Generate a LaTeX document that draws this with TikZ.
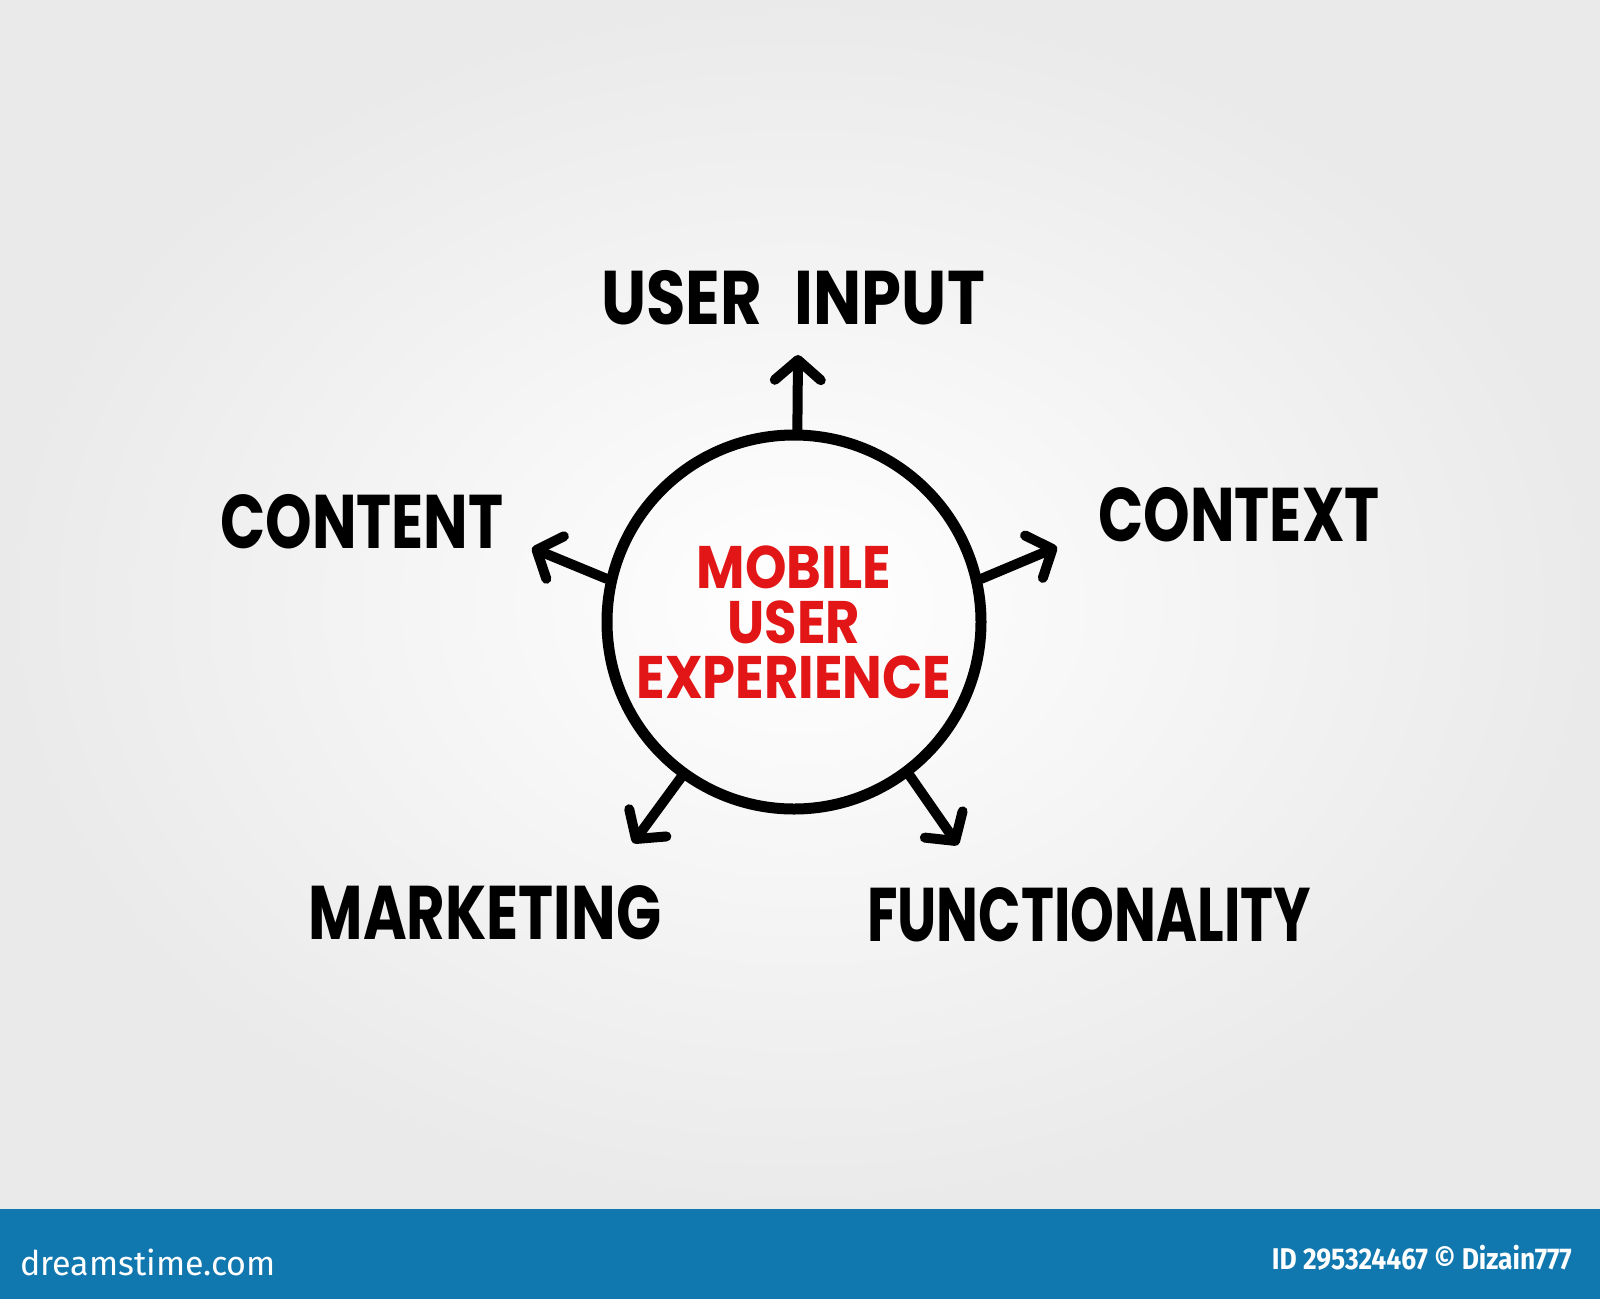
\documentclass[tikz,border=0pt]{standalone}
\usepackage{fontspec}
\usetikzlibrary{arrows.meta}
\newfontfamily\marker{Poppins}[FakeStretch=0.78]
\newfontfamily\redmarker{Poppins}[FakeStretch=0.88]
\newfontfamily\barfont{Fira Sans}
\definecolor{mred}{RGB}{226,22,22}
\definecolor{barblue}{RGB}{17,119,175}
\definecolor{bggray}{RGB}{234,234,234}

\begin{document}
\begin{tikzpicture}[x=1pt,y=-1pt,
    lbl/.style={font=\marker\bfseries\fontsize{76}{80}\selectfont,inner sep=0pt},
    arr/.style={line width=10pt,line cap=round,
        -{Straight Barb[length=20pt,width=46pt,line width=10pt,round]}}]
        \useasboundingbox (0,0) rectangle (1600,1299);
        \shade[inner color=white,outer color=bggray] (0,0) rectangle (1600,1209);
        \fill[barblue] (0,1209) rectangle (1600,1299);
        % the circle in the middle
        \node[circle,draw,line width=11pt,minimum size=374pt,inner sep=0pt,
              text=mred,align=center,
              font=\redmarker\bfseries\fontsize{60}{55}\selectfont] (hub) at (794,622)
              {MOBILE\\USER\\EXPERIENCE};
        \node[lbl] (input) at (793,298) {\scalebox{1.08}[1]{USER\hspace{18pt} INPUT}};
        \node[lbl] (content) at (362,522) {CONTENT};
        \node[lbl] (context) at (1239,515) {CONTEXT};
        \node[lbl] (marketing) at (485,913) {MARKETING};
        \node[lbl] (functionality) at (1089,915) {\scalebox{0.94}[1]{FUNCTIONALITY}};
        % arrow ends
        \coordinate (tipin) at (798,355);
        \coordinate (tipcont) at (532,548);
        \coordinate (tipctx) at (1057,547);
        \coordinate (tipmark) at (633,843);
        \coordinate (tipfunc) at (958,845);
        \draw[arr] (hub.89) -- (tipin);
        \draw[arr] (hub.167) -- (tipcont);
        \draw[arr] (hub.13) -- (tipctx);
        \draw[arr] (hub.234) -- (tipmark);
        \draw[arr] (hub.307) -- (tipfunc);
        % footer
        \node[text=white,anchor=west,inner sep=0pt,
              font=\barfont\fontsize{34}{36}\selectfont] (site) at (20,1262) {dreamstime.com};
        \node[text=white,anchor=east,inner sep=0pt,
              font=\barfont\bfseries\fontsize{30}{32}\selectfont] (credit) at (1572,1258)
              {\scalebox{0.88}[1]{ID 295324467 © Dizain777}};
        \end{tikzpicture}
\end{document}
